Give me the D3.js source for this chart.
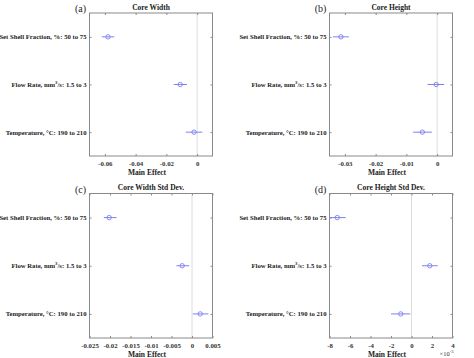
<!DOCTYPE html>
<html><head><meta charset="utf-8">
<script src="https://cdn.jsdelivr.net/npm/d3@7"></script>
<style>
body{margin:0;background:#fff;}
svg{display:block;}
text{font-family:"Liberation Serif","Times New Roman",serif;}
</style></head>
<body><svg id="c" width="474" height="358"></svg>
<script>
// ---- data ----
const factors = ["Set Shell Fraction, %: 50 to 75", "Flow Rate, mm|3|/s: 1.5 to 3", "Temperature, °C: 190 to 210"];
const panelTitles = ["Core Width", "Core Height", "Core Width Std Dev.", "Core Height Std Dev."];
const panelTags = ["(a)", "(b)", "(c)", "(d)"];
// main effect estimates and interval bounds
const widthEffect = [-0.058, -0.011, -0.002];
const widthLow    = [-0.062, -0.0152, -0.0074];
const widthHigh   = [-0.0539, -0.0066, 0.0034];
const heightEffect = [-0.0313, -0.0003, -0.0048];
const heightLow    = [-0.0339, -0.0031, -0.0078];
const heightHigh   = [-0.0287, 0.0023, -0.0017];
const widthSdEffect = [-0.0202, -0.0024, 0.0020];
const widthSdLow    = [-0.0215, -0.0038, 0.0002];
const widthSdHigh   = [-0.0184, -0.0007, 0.0040];
const heightSdEffect = [-0.00724, 0.00178, -0.00105];
const heightSdLow    = [-0.00798, 0.00102, -0.0020];
const heightSdHigh   = [-0.00642, 0.00256, -0.00012];
const xDomains = [[-0.07, 0.01], [-0.035, 0.005], [-0.025, 0.005], [-0.008, 0.004]];
const xTicks = [[-0.06, -0.04, -0.02, 0], [-0.03, -0.02, -0.01, 0],
  [-0.025, -0.02, -0.015, -0.01, -0.005, 0, 0.005], [-0.008, -0.006, -0.004, -0.002, 0, 0.002, 0.004]];
const xTickLabels = [["-0.06","-0.04","-0.02","0"], ["-0.03","-0.02","-0.01","0"],
  ["-0.025","-0.02","-0.015","-0.01","-0.005","0","0.005"], ["-8","-6","-4","-2","0","2","4"]];

const effects = [widthEffect, heightEffect, widthSdEffect, heightSdEffect];
const lows = [widthLow, heightLow, widthSdLow, heightSdLow];
const highs = [widthHigh, heightHigh, widthSdHigh, heightSdHigh];

// ---- layout ----
const boxes = [
  {x:89.5, y:13, w:123, h:143},
  {x:329.5, y:13, w:123, h:143},
  {x:89.5, y:193.5, w:123, h:144.5},
  {x:329.5, y:193.5, w:123, h:144.5}
];
const svg = d3.select("#c");
const markColor = "#7f7ff2";
const boxColor = "#8a8a8a";

boxes.forEach((b, i) => {
  const g = svg.append("g");
  const x = d3.scaleLinear().domain(xDomains[i]).range([b.x, b.x + b.w]);
  const y = d3.scalePoint().domain(factors).range([b.y, b.y + b.h]).padding(0.5);

  // zero reference line
  g.append("line").attr("x1", x(0)).attr("x2", x(0)).attr("y1", b.y).attr("y2", b.y + b.h)
    .attr("stroke", "#dcdcdc").attr("stroke-width", 1);

  // box
  g.append("rect").attr("x", b.x).attr("y", b.y).attr("width", b.w).attr("height", b.h)
    .attr("fill", "none").attr("stroke", boxColor).attr("stroke-width", 1);

  // x axis bottom
  const xa = d3.axisBottom(x).tickValues(xTicks[i]).tickSize(-2).tickPadding(5)
    .tickFormat((d, k) => xTickLabels[i][k]);
  const ax = g.append("g").attr("transform", `translate(0,${b.y + b.h})`).call(xa);
  ax.select(".domain").remove();
  ax.selectAll(".tick line").attr("stroke", boxColor);
  ax.selectAll(".tick text").attr("font-size", 6.8).attr("font-weight", "bold").attr("fill", "#333");
  // top ticks
  const xt = d3.axisTop(x).tickValues(xTicks[i]).tickSize(-2).tickFormat("");
  const axt = g.append("g").attr("transform", `translate(0,${b.y})`).call(xt);
  axt.select(".domain").remove();
  axt.selectAll(".tick line").attr("stroke", boxColor);

  // y axis left
  const ya = d3.axisLeft(y).tickSize(-2).tickPadding(3).tickFormat("");
  const ay = g.append("g").attr("transform", `translate(${b.x},0)`).call(ya);
  ay.select(".domain").remove();
  ay.selectAll(".tick line").attr("stroke", boxColor);
  const yr = d3.axisRight(y).tickSize(-2).tickFormat("");
  const ayr = g.append("g").attr("transform", `translate(${b.x + b.w},0)`).call(yr);
  ayr.select(".domain").remove();
  ayr.selectAll(".tick line").attr("stroke", boxColor);

  // y labels
  factors.forEach(f => {
    const parts = f.split("|");
    const t = g.append("text").attr("x", b.x - 3).attr("y", y(f) + 2.4)
      .attr("text-anchor", "end").attr("font-size", 6.7).attr("font-weight", "bold").attr("fill", "#222");
    t.append("tspan").text(parts[0]);
    if (parts.length > 1) {
      t.append("tspan").attr("dy", -3).attr("font-size", 4.8).text(parts[1]);
      t.append("tspan").attr("dy", 3).text(parts[2]);
    }
  });

  // intervals
  g.selectAll(".ci").data(factors).join("line")
    .attr("x1", (d, k) => x(lows[i][k])).attr("x2", (d, k) => x(highs[i][k]))
    .attr("y1", d => y(d)).attr("y2", d => y(d))
    .attr("stroke", markColor).attr("stroke-width", 1);
  g.selectAll(".pt").data(factors).join("circle")
    .attr("cx", (d, k) => x(effects[i][k])).attr("cy", d => y(d)).attr("r", 2.2)
    .attr("fill", "none").attr("stroke", markColor).attr("stroke-width", 0.9);

  // title
  g.append("text").attr("x", b.x + b.w / 2).attr("y", b.y - 3.5).attr("text-anchor", "middle")
    .attr("font-size", 7.5).attr("font-weight", "bold").attr("fill", "#222").text(panelTitles[i]);
  g.append("text").attr("x", b.x - 9).attr("y", b.y - 1).attr("text-anchor", "middle")
    .attr("font-size", 10).attr("fill", "#222").text(panelTags[i]);
  // x label
  g.append("text").attr("x", b.x + b.w / 2 - 4).attr("y", b.y + b.h + 19).attr("text-anchor", "middle")
    .attr("font-size", 7.5).attr("font-weight", "bold").attr("fill", "#222").text("Main Effect");
});

// exponent label for panel d
const bd = boxes[3];
const ex = svg.append("text").attr("x", bd.x + bd.w + 1).attr("y", bd.y + bd.h + 17.5)
  .attr("text-anchor", "end").attr("font-size", 6.5).attr("fill", "#333");
ex.append("tspan").text("×10");
ex.append("tspan").attr("dy", -3).attr("font-size", 4.6).text("-3");
</script></body></html>
